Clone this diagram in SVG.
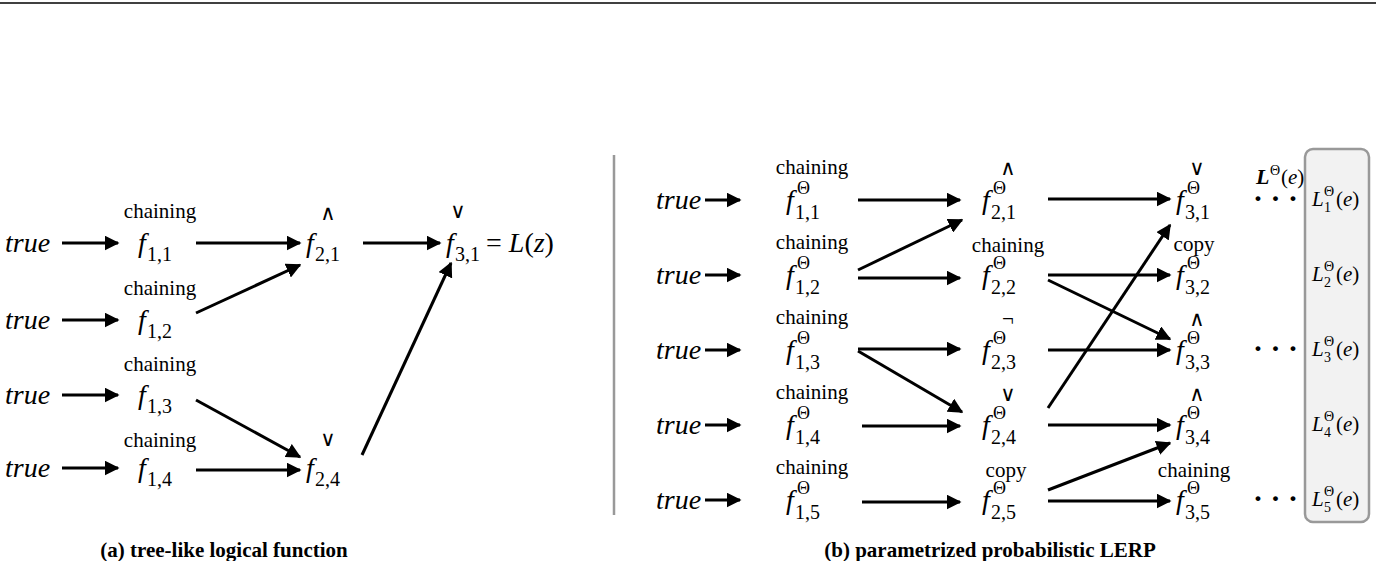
<svg xmlns="http://www.w3.org/2000/svg" width="1376" height="561" viewBox="0 0 1376 561" font-family="'Liberation Serif','DejaVu Serif',serif">
<style>
text{font-family:'Liberation Serif','DejaVu Serif',serif;fill:#000}
.it{font-style:italic;font-size:28px}
.lb{font-size:21px;text-anchor:middle}
.sb{font-size:20px}
.sp{font-size:18px}
.li{font-style:italic;font-size:21px}
.ls{font-size:14px}
.cap{font-size:21px;font-weight:bold;text-anchor:middle}
.c line{stroke:#000;stroke-width:3;marker-end:url(#a)}
</style>
<defs><marker id="a" markerWidth="5" markerHeight="5" refX="4.5" refY="2.5" orient="auto" markerUnits="strokeWidth"><path d="M0,0L5,2.5L0,5z" fill="#000"/></marker></defs>
<rect width="1376" height="561" fill="#fff"/>
<line x1="0" y1="3" x2="1376" y2="3" stroke="#000" stroke-width="1.5"/>
<line x1="614" y1="155" x2="614" y2="515" stroke="#999" stroke-width="2.5"/>
<g id="left-nodes">
<g id="t1"><text class="it" x="5" y="252">true</text></g>
<g id="t2"><text class="it" x="5" y="329">true</text></g>
<g id="t3"><text class="it" x="5" y="404">true</text></g>
<g id="t4"><text class="it" x="5" y="477">true</text></g>
<g id="f11"><text class="lb" x="160" y="218">chaining</text><text class="it" x="138" y="252">f</text><text class="sb" x="147" y="261">1,1</text></g>
<g id="f12"><text class="lb" x="160" y="295">chaining</text><text class="it" x="138" y="329">f</text><text class="sb" x="147" y="338">1,2</text></g>
<g id="f13"><text class="lb" x="160" y="371">chaining</text><text class="it" x="138" y="404">f</text><text class="sb" x="147" y="413">1,3</text></g>
<g id="f14"><text class="lb" x="160" y="447">chaining</text><text class="it" x="138" y="477">f</text><text class="sb" x="147" y="486">1,4</text></g>
<g id="f21"><text class="lb" x="328" y="220">∧</text><text class="it" x="306" y="252">f</text><text class="sb" x="315" y="261">2,1</text></g>
<g id="f24"><text class="lb" x="328" y="446">∨</text><text class="it" x="306" y="477">f</text><text class="sb" x="315" y="486">2,4</text></g>
<g id="f31"><text class="lb" x="458" y="218">∨</text><text class="it" x="446" y="252">f</text><text class="sb" x="455" y="261">3,1</text><text x="486" y="252" style="font-size:28px">= <tspan font-style="italic">L</tspan>(<tspan font-style="italic">z</tspan>)</text></g>
</g>
<g id="right-nodes">
<g id="r-true"><text class="it" x="656" y="209">true</text><text class="it" x="656" y="284">true</text><text class="it" x="656" y="359">true</text><text class="it" x="656" y="434">true</text><text class="it" x="656" y="509">true</text></g>
<g id="g11"><text class="lb" x="812" y="174">chaining</text><text class="it" x="786" y="209">f</text><text class="sp" x="797" y="194">Θ</text><text class="sb" x="795" y="219">1,1</text></g>
<g id="g12"><text class="lb" x="812" y="249">chaining</text><text class="it" x="786" y="284">f</text><text class="sp" x="797" y="269">Θ</text><text class="sb" x="795" y="294">1,2</text></g>
<g id="g13"><text class="lb" x="812" y="324">chaining</text><text class="it" x="786" y="359">f</text><text class="sp" x="797" y="344">Θ</text><text class="sb" x="795" y="369">1,3</text></g>
<g id="g14"><text class="lb" x="812" y="399">chaining</text><text class="it" x="786" y="434">f</text><text class="sp" x="797" y="419">Θ</text><text class="sb" x="795" y="444">1,4</text></g>
<g id="g15"><text class="lb" x="812" y="474">chaining</text><text class="it" x="786" y="509">f</text><text class="sp" x="797" y="494">Θ</text><text class="sb" x="795" y="519">1,5</text></g>
<g id="g21"><text class="lb" x="1008" y="175">∧</text><text class="it" x="982" y="209">f</text><text class="sp" x="993" y="194">Θ</text><text class="sb" x="991" y="219">2,1</text></g>
<g id="g22"><text class="lb" x="1008" y="252">chaining</text><text class="it" x="982" y="284">f</text><text class="sp" x="993" y="269">Θ</text><text class="sb" x="991" y="294">2,2</text></g>
<g id="g23"><text class="lb" x="1008" y="326">¬</text><text class="it" x="982" y="359">f</text><text class="sp" x="993" y="344">Θ</text><text class="sb" x="991" y="369">2,3</text></g>
<g id="g24"><text class="lb" x="1008" y="401">∨</text><text class="it" x="982" y="434">f</text><text class="sp" x="993" y="419">Θ</text><text class="sb" x="991" y="444">2,4</text></g>
<g id="g25"><text class="lb" x="1006" y="477">copy</text><text class="it" x="982" y="509">f</text><text class="sp" x="993" y="494">Θ</text><text class="sb" x="991" y="519">2,5</text></g>
<g id="g31"><text class="lb" x="1197" y="175">∨</text><text class="it" x="1176" y="209">f</text><text class="sp" x="1187" y="194">Θ</text><text class="sb" x="1185" y="219">3,1</text></g>
<g id="g32"><text class="lb" x="1194" y="251">copy</text><text class="it" x="1176" y="284">f</text><text class="sp" x="1187" y="269">Θ</text><text class="sb" x="1185" y="294">3,2</text></g>
<g id="g33"><text class="lb" x="1197" y="326">∧</text><text class="it" x="1176" y="359">f</text><text class="sp" x="1187" y="344">Θ</text><text class="sb" x="1185" y="369">3,3</text></g>
<g id="g34"><text class="lb" x="1197" y="401">∧</text><text class="it" x="1176" y="434">f</text><text class="sp" x="1187" y="419">Θ</text><text class="sb" x="1185" y="444">3,4</text></g>
<g id="g35"><text class="lb" x="1194" y="477">chaining</text><text class="it" x="1176" y="509">f</text><text class="sp" x="1187" y="494">Θ</text><text class="sb" x="1185" y="519">3,5</text></g>
<g id="dots" style="font-size:30px;font-weight:bold"><text x="1253" y="208">· · ·</text><text x="1253" y="358">· · ·</text><text x="1253" y="508">· · ·</text></g>
<g id="L">
<rect x="1305" y="149" width="64" height="373" rx="8" fill="#f2f2f2" stroke="#999" stroke-width="2.5"/>
<text x="1256" y="184" style="font-size:22px;font-weight:bold;font-style:italic">L</text><text x="1270" y="175" class="ls">Θ</text><text x="1281" y="184" style="font-size:21px">(<tspan font-style="italic">e</tspan>)</text>
<g id="L1"><text class="li" x="1312" y="206">L</text><text class="ls" x="1324" y="196">Θ</text><text class="ls" x="1324" y="212">1</text><text class="li" x="1336" y="206"><tspan font-style="normal">(</tspan>e<tspan font-style="normal">)</tspan></text></g>
<g id="L2"><text class="li" x="1312" y="281">L</text><text class="ls" x="1324" y="271">Θ</text><text class="ls" x="1324" y="287">2</text><text class="li" x="1336" y="281"><tspan font-style="normal">(</tspan>e<tspan font-style="normal">)</tspan></text></g>
<g id="L3"><text class="li" x="1312" y="356">L</text><text class="ls" x="1324" y="346">Θ</text><text class="ls" x="1324" y="362">3</text><text class="li" x="1336" y="356"><tspan font-style="normal">(</tspan>e<tspan font-style="normal">)</tspan></text></g>
<g id="L4"><text class="li" x="1312" y="431">L</text><text class="ls" x="1324" y="421">Θ</text><text class="ls" x="1324" y="437">4</text><text class="li" x="1336" y="431"><tspan font-style="normal">(</tspan>e<tspan font-style="normal">)</tspan></text></g>
<g id="L5"><text class="li" x="1312" y="506">L</text><text class="ls" x="1324" y="496">Θ</text><text class="ls" x="1324" y="512">5</text><text class="li" x="1336" y="506"><tspan font-style="normal">(</tspan>e<tspan font-style="normal">)</tspan></text></g>
</g>
</g>
<g id="connectors" class="c">
<line x1="62" y1="243" x2="118" y2="243"/><line x1="62" y1="320" x2="118" y2="320"/><line x1="62" y1="395" x2="118" y2="395"/><line x1="62" y1="468" x2="118" y2="468"/>
<line x1="196" y1="243" x2="300" y2="243"/><line x1="196" y1="313" x2="300" y2="265"/><line x1="196" y1="400" x2="300" y2="457"/><line x1="196" y1="470" x2="300" y2="470"/>
<line x1="363" y1="243" x2="440" y2="243"/><line x1="362" y1="455" x2="451" y2="263"/>
<line x1="705" y1="200" x2="740" y2="200"/><line x1="705" y1="275" x2="740" y2="275"/><line x1="705" y1="350" x2="740" y2="350"/><line x1="705" y1="425" x2="740" y2="425"/><line x1="705" y1="500" x2="740" y2="500"/>
<line x1="858" y1="200" x2="960" y2="200"/><line x1="858" y1="270" x2="962" y2="220"/><line x1="858" y1="278" x2="960" y2="278"/><line x1="858" y1="349" x2="960" y2="349"/><line x1="858" y1="351" x2="962" y2="412"/><line x1="862" y1="426" x2="960" y2="426"/><line x1="862" y1="502" x2="960" y2="502"/>
<line x1="1048" y1="199" x2="1170" y2="199"/><line x1="1048" y1="275" x2="1170" y2="275"/><line x1="1048" y1="280" x2="1170" y2="339"/><line x1="1048" y1="350" x2="1170" y2="350"/><line x1="1048" y1="408" x2="1170" y2="225"/><line x1="1048" y1="425" x2="1170" y2="425"/><line x1="1048" y1="490" x2="1170" y2="443"/><line x1="1048" y1="501" x2="1170" y2="501"/>
</g>
<text class="cap" x="224" y="557">(a) tree-like logical function</text>
<text class="cap" x="990" y="557">(b) parametrized probabilistic LERP</text>
</svg>
